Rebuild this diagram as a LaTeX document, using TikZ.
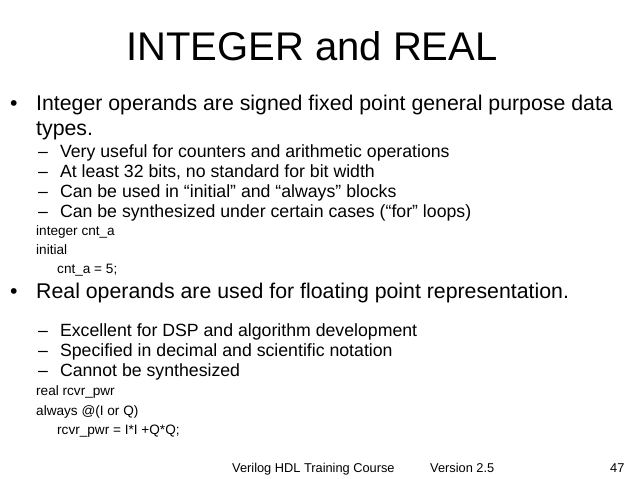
\documentclass[tikz,border=0pt]{standalone}
\usepackage{fontspec}
\setmainfont{Liberation Sans}
\begin{document}
\begin{tikzpicture}[x=1pt,y=1pt,
  t/.style={anchor=base west,inner sep=0pt},
  b1/.style={t,font=\fontsize{21.3}{25}\selectfont},
  b2/.style={t,font=\fontsize{17.7}{19}\selectfont},
  cd/.style={t,font=\fontsize{13.6}{15}\selectfont},
  ft/.style={t,font=\fontsize{12.8}{13}\selectfont}]
\useasboundingbox (0,0) rectangle (638,-479);
\fill[white] (0,0) rectangle (638,-479);
\node[anchor=base,inner sep=0pt,font=\fontsize{40}{44}\selectfont] (title) at (312,-60) {INTEGER and REAL};
\node[b1] (d1) at (10,-110) {•};
\node[b1] (l1) at (36,-110) {Integer operands are signed fixed point general purpose data};
\node[b1] (l1b) at (36,-135) {types.};
\node[b2] (s1a) at (38,-157) {–\hspace{12pt}Very useful for counters and arithmetic operations};
\node[b2] (s1b) at (38,-177) {–\hspace{12pt}At least 32 bits, no standard for bit width};
\node[b2] (s1c) at (38,-197) {–\hspace{12pt}Can be used in “initial” and “always” blocks};
\node[b2] (s1d) at (38,-217) {–\hspace{12pt}Can be synthesized under certain cases (“for” loops)};
\node[cd] (c1) at (36,-235) {integer cnt\_a};
\node[cd] (c2) at (36,-254) {initial};
\node[cd] (c3) at (57,-273) {cnt\_a = 5;};
\node[b1] (d2) at (10,-298) {•};
\node[b1] (l2) at (36,-298) {Real operands are used for floating point representation.};
\node[b2] (s2a) at (38,-336) {–\hspace{12pt}Excellent for DSP and algorithm development};
\node[b2] (s2b) at (38,-356) {–\hspace{12pt}Specified in decimal and scientific notation};
\node[b2] (s2c) at (38,-376) {–\hspace{12pt}Cannot be synthesized};
\node[cd] (r1) at (36,-395) {real rcvr\_pwr};
\node[cd] (r2) at (36,-415) {always @(I or Q)};
\node[cd] (r3) at (57,-434) {rcvr\_pwr = I*I +Q*Q;};
\node[ft] (f1) at (232,-472) {Verilog HDL Training Course};
\node[ft] (f2) at (430,-472) {Version 2.5};
\node[ft] (f3) at (610,-472) {47};
\end{tikzpicture}
\end{document}
